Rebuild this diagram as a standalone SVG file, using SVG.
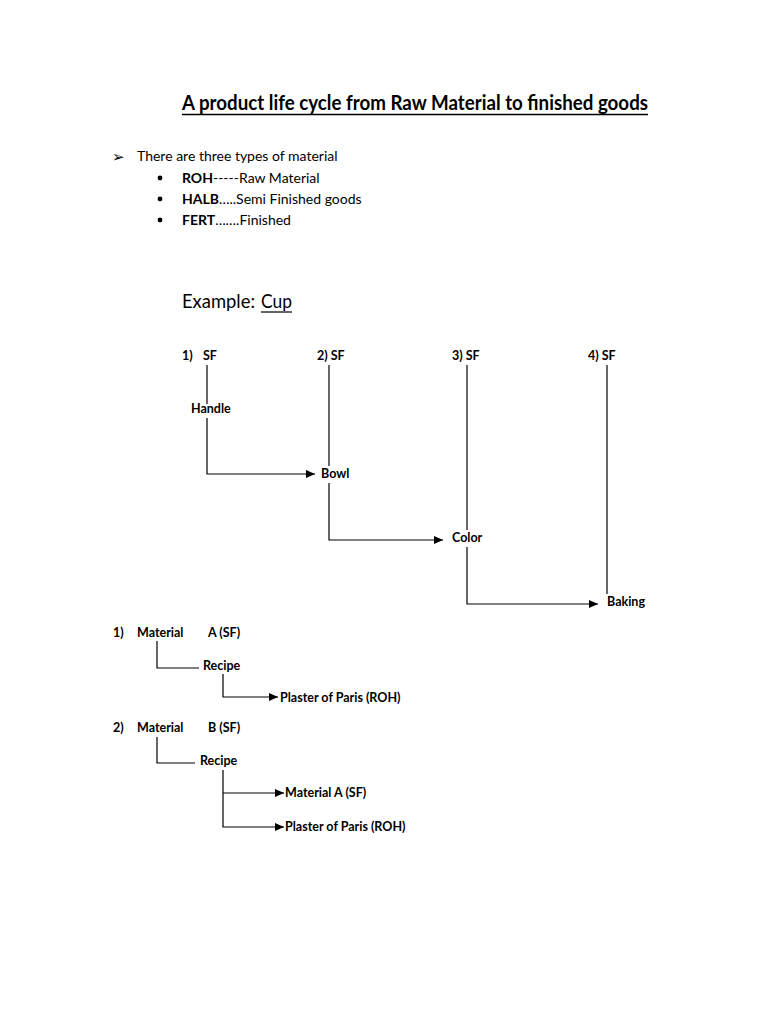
<svg xmlns="http://www.w3.org/2000/svg" width="768" height="1024" viewBox="0 0 768 1024">
<style>
text{font-family:Lato,"Liberation Sans",sans-serif;fill:#000}
.t{font-size:20px;font-weight:bold}
.n{font-size:14px}
.b{font-size:12.5px;font-weight:bold}
.l{fill:none;stroke:#000;stroke-width:1.2}
</style>
<defs>
<marker id="ah" markerUnits="userSpaceOnUse" markerWidth="10" markerHeight="8" refX="9" refY="4" orient="auto">
<path d="M0,0 L9,4 L0,8 Z" fill="#000"/>
</marker>
</defs>
<rect width="768" height="1024" fill="#fff"/>
<g id="title">
<text class="t" x="182" y="110" textLength="466" lengthAdjust="spacingAndGlyphs">A product life cycle from Raw Material to finished goods</text>
<line x1="182" y1="114.5" x2="648" y2="114.5" stroke="#000" stroke-width="1.5"/>
</g>
<g id="types">
<text x="112" y="162" style="font-family:'DejaVu Sans',sans-serif;font-size:15px">➢</text>
<text class="n" x="137" y="161">There are three types of material</text>
<circle cx="160" cy="178" r="2.4" fill="#000"/>
<text class="n" x="182" y="183"><tspan font-weight="bold">ROH</tspan>-----Raw Material</text>
<circle cx="160" cy="199" r="2.4" fill="#000"/>
<text class="n" x="182" y="204"><tspan font-weight="bold">HALB</tspan>…..Semi Finished goods</text>
<circle cx="160" cy="220" r="2.4" fill="#000"/>
<text class="n" x="182" y="225"><tspan font-weight="bold">FERT</tspan>…….Finished</text>
</g>
<g id="example">
<text x="182" y="308" style="font-size:20px" textLength="73" lengthAdjust="spacingAndGlyphs">Example:</text>
<text x="261" y="308" style="font-size:20px" textLength="31" lengthAdjust="spacingAndGlyphs">Cup</text>
<line x1="261" y1="312" x2="292" y2="312" stroke="#000" stroke-width="1.2"/>
</g>
<g id="sf1"><text class="b" x="182" y="360">1)</text><text class="b" x="203" y="360">SF</text></g>
<g id="sf2"><text class="b" x="317" y="360">2) SF</text></g>
<g id="sf3"><text class="b" x="452" y="360">3) SF</text></g>
<g id="sf4"><text class="b" x="588" y="360">4) SF</text></g>
<g id="handle"><text class="b" x="191" y="413">Handle</text></g>
<g id="bowl"><text class="b" x="321" y="478">Bowl</text></g>
<g id="color"><text class="b" x="452" y="542">Color</text></g>
<g id="baking"><text class="b" x="607" y="606">Baking</text></g>
<g id="matA">
<text class="b" x="113" y="637">1)</text><text class="b" x="137" y="637">Material</text><text class="b" x="208" y="637">A (SF)</text>
<text class="b" x="203" y="670">Recipe</text>
<text class="b" x="280" y="702">Plaster of Paris (ROH)</text>
</g>
<g id="matB">
<text class="b" x="113" y="732">2)</text><text class="b" x="137" y="732">Material</text><text class="b" x="208" y="732">B (SF)</text>
<text class="b" x="200" y="765">Recipe</text>
<text class="b" x="285" y="797">Material A (SF)</text>
<text class="b" x="285" y="831">Plaster of Paris (ROH)</text>
</g>
<g id="connectors">
<line class="l" x1="207" y1="365" x2="207" y2="404"/>
<polyline class="l" points="207,418 207,474 315,474" marker-end="url(#ah)"/>
<line class="l" x1="329" y1="365" x2="329" y2="466"/>
<polyline class="l" points="329,483 329,540 443,540" marker-end="url(#ah)"/>
<line class="l" x1="467" y1="365" x2="467" y2="530"/>
<polyline class="l" points="467,547 467,604 598,604" marker-end="url(#ah)"/>
<line class="l" x1="607" y1="365" x2="607" y2="594"/>
<polyline class="l" points="157,641 157,668 199,668"/>
<polyline class="l" points="223,674 223,697 278,697" marker-end="url(#ah)"/>
<polyline class="l" points="157,737 157,763 195,763"/>
<polyline class="l" points="223,770 223,827 284,827" marker-end="url(#ah)"/>
<line class="l" x1="223" y1="793" x2="284" y2="793" marker-end="url(#ah)"/>
</g>
</svg>
